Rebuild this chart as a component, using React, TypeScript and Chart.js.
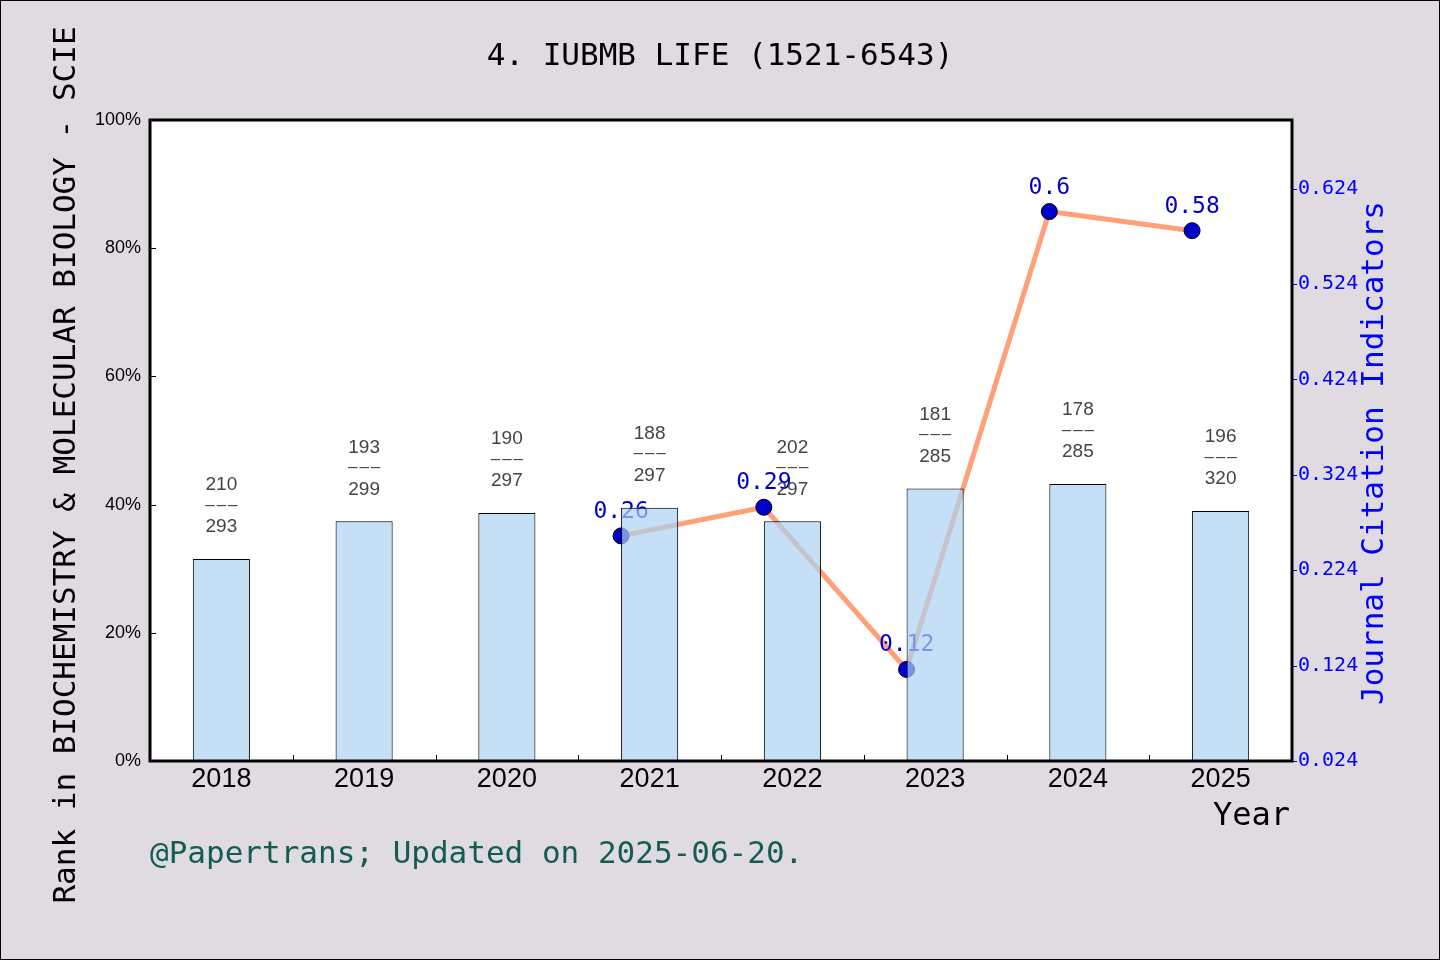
import React, { useEffect, useRef } from "react";
import { Chart, registerables } from "chart.js";

Chart.register(...registerables);

const years = ["2018", "2019", "2020", "2021", "2022", "2023", "2024", "2025"];
const rankPercent = [31.5, 37.4, 38.7, 39.5, 37.4, 42.5, 43.2, 39.0];
const ranks = [210, 193, 190, 188, 202, 181, 178, 196];
const totals = [293, 299, 297, 297, 297, 285, 285, 320];
const jci: (number | null)[] = [null, null, null, 0.26, 0.29, 0.12, 0.6, 0.58];
const jciTicks = [0.024, 0.124, 0.224, 0.324, 0.424, 0.524, 0.624];
const leftTicks = [0, 20, 40, 60, 80, 100];

const TITLE = "4. IUBMB LIFE (1521-6543)";
const LEFT_TITLE = "Rank in BIOCHEMISTRY & MOLECULAR BIOLOGY - SCIE";
const RIGHT_TITLE = "Journal Citation Indicators";
const X_TITLE = "Year";
const FOOTER = "@Papertrans; Updated on 2025-06-20.";

const LINE_X_SHIFT = -0.2;
const MONO = "'DejaVu Sans Mono', monospace";
const SANS = "'Liberation Sans', Arial, sans-serif";
const BG = "#dfdbe0";

const decorPlugin = {
  id: "decor",
  beforeDraw(chart: any) {
    const { ctx, width, height, chartArea } = chart;
    ctx.save();
    ctx.fillStyle = BG;
    ctx.fillRect(0, 0, width, height);
    ctx.fillStyle = "#ffffff";
    ctx.fillRect(chartArea.left, chartArea.top, chartArea.right - chartArea.left, chartArea.bottom - chartArea.top);
    ctx.restore();
  },
  afterDatasetDraw(chart: any, args: any) {
    if (args.index !== 1) return;
    const { ctx } = chart;
    const meta = chart.getDatasetMeta(1);
    ctx.save();
    ctx.font = `23px ${MONO}`;
    ctx.fillStyle = "#0000cd";
    ctx.textAlign = "center";
    ctx.textBaseline = "middle";
    jci.forEach((v, i) => {
      if (v === null) return;
      const pt = meta.data[i];
      if (!pt || pt.skip) return;
      ctx.fillText(String(v), pt.x, pt.y - 24);
    });
    ctx.restore();
  },
  afterDatasetsDraw(chart: any) {
    const { ctx, chartArea } = chart;
    const meta = chart.getDatasetMeta(0);
    ctx.save();
    ctx.fillStyle = "#444444";
    ctx.textAlign = "center";
    ctx.textBaseline = "middle";
    meta.data.forEach((bar: any, i: number) => {
      ctx.font = `19px ${SANS}`;
      ctx.fillText(String(totals[i]), bar.x, bar.y - 32);
      ctx.fillText(String(ranks[i]), bar.x, bar.y - 74);
      ctx.save();
      ctx.font = `17px ${SANS}`;
      (ctx as any).letterSpacing = "2px";
      ctx.fillText("\u2013\u2013\u2013", bar.x + 1, bar.y - 54);
      ctx.restore();
    });
    // ticks
    const ys = chart.scales.y;
    const y1 = chart.scales.y1;
    const xs = chart.scales.x;
    ctx.lineWidth = 1;
    ctx.strokeStyle = "#000";
    ctx.beginPath();
    leftTicks.forEach((t) => {
      const p = Math.round(ys.getPixelForValue(t)) + 0.5;
      ctx.moveTo(chartArea.left, p);
      ctx.lineTo(chartArea.left + 6, p);
    });
    for (let i = 1; i < years.length; i++) {
      const a = xs.getPixelForValue(i - 1);
      const b = xs.getPixelForValue(i);
      const p = Math.round((a + b) / 2) + 0.5;
      ctx.moveTo(p, chartArea.bottom);
      ctx.lineTo(p, chartArea.bottom - 6);
    }
    ctx.stroke();
    ctx.strokeStyle = "#0000ff";
    ctx.beginPath();
    jciTicks.forEach((t) => {
      const p = Math.round(y1.getPixelForValue(t)) + 0.5;
      ctx.moveTo(chartArea.right, p);
      ctx.lineTo(chartArea.right + 5, p);
    });
    ctx.stroke();
    // frame
    ctx.lineWidth = 3;
    ctx.strokeStyle = "#000";
    ctx.strokeRect(chartArea.left, chartArea.top, chartArea.right - chartArea.left, chartArea.bottom - chartArea.top);
    ctx.restore();
  },
  afterDraw(chart: any) {
    const { ctx, width, height } = chart;
    ctx.save();
    ctx.textBaseline = "middle";
    ctx.font = `31px ${MONO}`;
    ctx.fillStyle = "#000";
    ctx.textAlign = "center";
    ctx.fillText(TITLE, 720, 57);
    ctx.fillStyle = "#135c52";
    ctx.textAlign = "left";
    ctx.fillText(FOOTER, 150, 855);
    ctx.fillStyle = "#000";
    ctx.textAlign = "right";
    ctx.font = `32px ${MONO}`;
    ctx.fillText(X_TITLE, 1290, 817);
    ctx.font = `31px ${MONO}`;
    ctx.save();
    ctx.translate(67, 465);
    ctx.rotate(-Math.PI / 2);
    ctx.textAlign = "center";
    ctx.fillStyle = "#000";
    ctx.fillText(LEFT_TITLE, 0, 0);
    ctx.restore();
    ctx.save();
    ctx.translate(1375, 453);
    ctx.rotate(-Math.PI / 2);
    ctx.textAlign = "center";
    ctx.fillStyle = "#0000ff";
    ctx.fillText(RIGHT_TITLE, 0, 0);
    ctx.restore();
    ctx.lineWidth = 1;
    ctx.strokeStyle = "#000";
    ctx.strokeRect(0.5, 0.5, width - 1, height - 1);
    ctx.restore();
  },
};

export default function App() {
  const canvasRef = useRef<HTMLCanvasElement | null>(null);

  useEffect(() => {
    document.body.style.margin = "0";
    const canvas = canvasRef.current;
    if (!canvas) return;
    const chart = new Chart(canvas, {
      type: "bar",
      data: {
        labels: years,
        datasets: [
          {
            type: "bar",
            label: "Rank",
            data: rankPercent,
            xAxisID: "x",
            yAxisID: "y",
            backgroundColor: "rgba(172,211,242,0.7)",
            borderColor: "#000",
            borderWidth: 1,
            barPercentage: 0.4,
            categoryPercentage: 1,
            grouped: false,
            order: 0,
          } as any,
          {
            type: "line",
            label: "JCI",
            data: jci.map((v, i) => ({ x: i + LINE_X_SHIFT, y: v })),
            xAxisID: "xl",
            yAxisID: "y1",
            borderColor: "#FFA07A",
            borderWidth: 5,
            pointRadius: 8,
            pointHoverRadius: 8,
            pointBackgroundColor: "#0000cd",
            pointBorderColor: "#000",
            pointBorderWidth: 1,
            spanGaps: false,
            tension: 0,
            order: 1,
          } as any,
        ],
      },
      options: {
        animation: false,
        responsive: true,
        maintainAspectRatio: false,
        events: [],
        layout: { padding: { top: 120, left: 0, right: 0, bottom: 0 } },
        plugins: { legend: { display: false }, tooltip: { enabled: false }, title: { display: false } },
        scales: {
          x: {
            type: "category",
            offset: true,
            grid: { display: false, drawTicks: false },
            border: { display: false },
            ticks: { font: { family: SANS, size: 27 }, color: "#000", padding: 2, maxRotation: 0, autoSkip: false },
            afterFit(s: any) {
              s.height = 199;
            },
          },
          xl: {
            type: "linear",
            display: false,
            offset: false,
            grace: 0,
            bounds: "ticks",
            min: -0.5,
            max: years.length - 0.5,
          },
          y: {
            position: "left",
            min: 0,
            max: 100,
            grid: { display: false, drawTicks: false },
            border: { display: false },
            afterBuildTicks(s: any) {
              s.ticks = leftTicks.map((v) => ({ value: v }));
            },
            ticks: { callback: (v: any) => v + "%", font: { family: SANS, size: 18 }, color: "#000", padding: 9 },
            afterFit(s: any) {
              s.width = 150;
            },
          },
          y1: {
            position: "right",
            min: 0.024,
            max: 0.696,
            grid: { display: false, drawTicks: false },
            border: { display: false },
            afterBuildTicks(s: any) {
              s.ticks = jciTicks.map((v) => ({ value: v }));
            },
            ticks: { callback: (v: any) => Number(v).toFixed(3), font: { family: MONO, size: 20 }, color: "#0000ff", padding: 6 },
            afterFit(s: any) {
              s.width = 148;
            },
          },
        } as any,
      },
      plugins: [decorPlugin],
    });
    return () => chart.destroy();
  }, []);

  return (
    <div style={{ width: 1440, height: 960, position: "relative" }}>
      <canvas ref={canvasRef} />
    </div>
  );
}
